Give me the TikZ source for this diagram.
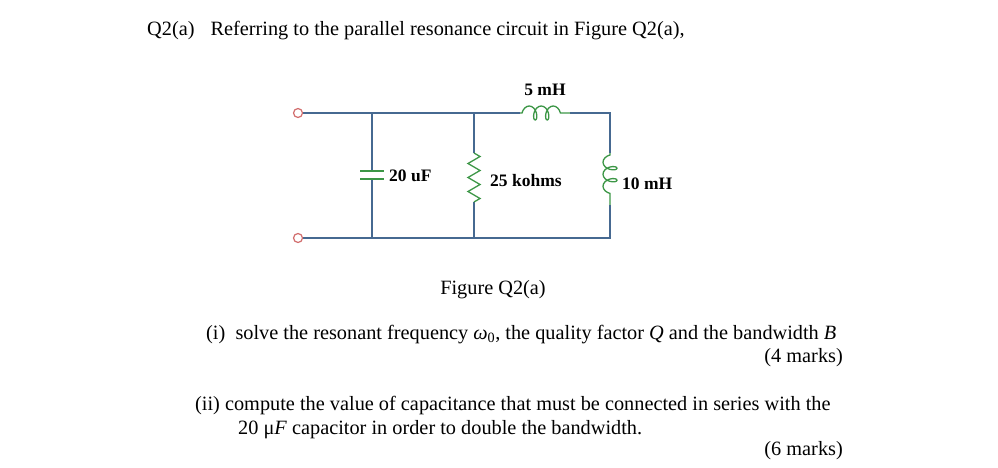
\documentclass[tikz,border=0pt]{standalone}
\usepackage{fontspec}
\setmainfont{Liberation Serif}
\usetikzlibrary{decorations.pathmorphing}
\definecolor{wire}{RGB}{70,105,145}
\definecolor{comp}{RGB}{60,150,70}
\definecolor{term}{RGB}{210,110,110}
\begin{document}
\begin{tikzpicture}[x=1pt,y=-1pt,
  w/.style={wire,line width=1.3pt},
  c/.style={comp,line width=1.3pt},
  txt/.style={inner sep=0,font=\fontsize{20.3}{24}\selectfont},
  lab/.style={inner sep=0,font=\fontsize{17.5}{20}\selectfont\bfseries}]
\useasboundingbox (0,0) rectangle (998,468);
% text
\node[txt,anchor=base west] (q) at (147,36) {Q2(a)\hspace{16pt}Referring to the parallel resonance circuit in Figure Q2(a),};
\node[txt,anchor=base] (fig) at (493,294) {Figure Q2(a)};
\node[txt,anchor=base west] (i) at (206,339) {(i)\ \ solve the resonant frequency \textit{ω}\textsubscript{0}, the quality factor \textit{Q} and the bandwidth \textit{B}};
\node[txt,anchor=base east] (m4) at (843,362) {(4 marks)};
\node[txt,anchor=base west] (ii) at (195,410) {(ii) compute the value of capacitance that must be connected in series with the};
\node[txt,anchor=base west] (ii2) at (238,434) {20 μ\textit{F} capacitor in order to double the bandwidth.};
\node[txt,anchor=base east] (m6) at (843,455) {(6 marks)};
% circuit coordinates
\coordinate (t1) at (298,113);
\coordinate (t2) at (298,238);
\coordinate (ct) at (372,113); \coordinate (cb) at (372,238);
\coordinate (rt) at (474,113); \coordinate (rb) at (474,238);
\coordinate (la) at (520,113); \coordinate (lb) at (570,113);
\coordinate (tr) at (610,113); \coordinate (br) at (610,238);
\coordinate (l2a) at (610,153); \coordinate (l2b) at (610,205);
\coordinate (c1) at (372,171); \coordinate (c2) at (372,179);
\coordinate (ra) at (474,153); \coordinate (rbb) at (474,202);
% wires
\draw[w] (t1) -- (la);
\draw[w] (lb) -- (tr) -- (l2a);
\draw[w] (l2b) -- (br) -- (t2);
\draw[w] (ct) -- (c1); \draw[w] (c2) -- (cb);
\draw[w] (rt) -- (ra); \draw[w] (rbb) -- (rb);
% capacitor
\draw[c] (360,171) -- (384,171); \draw[c] (360,179) -- (384,179);
% resistor
\draw[c,decorate,decoration={zigzag,amplitude=6pt,segment length=14pt}] (ra) -- (rbb);
% inductors
\draw[c,decorate,decoration={coil,amplitude=7pt,segment length=12pt,aspect=0.6,pre length=2pt,post length=2pt}] (la) -- (lb);
\draw[c,decorate,decoration={coil,amplitude=7pt,segment length=12pt,aspect=0.6,pre length=2pt,post length=2pt,mirror}] (l2a) -- (l2b);
% terminals
\draw[term,line width=1.2pt,fill=white] (t1) circle (4.5);
\draw[term,line width=1.2pt,fill=white] (t2) circle (4.5);
% labels
\node[lab,anchor=west] (lc) at (389,176) {20 uF};
\node[lab,anchor=west] (lr) at (490,181) {25 kohms};
\node[lab,anchor=south] (ll) at (545,96) {5 mH};
\node[lab,anchor=west] (ll2) at (622,184) {10 mH};
\end{tikzpicture}
\end{document}
